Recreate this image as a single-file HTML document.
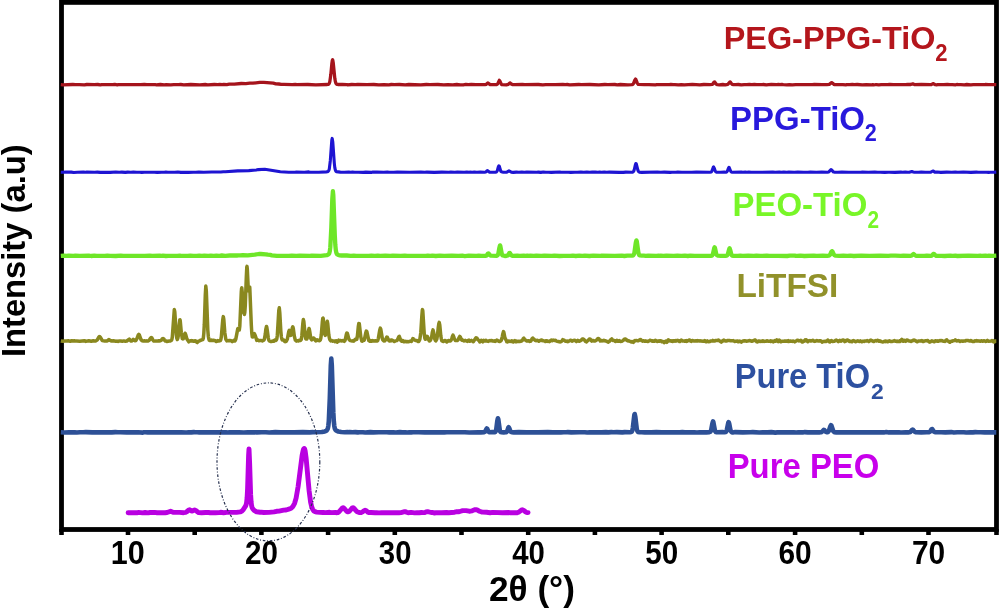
<!DOCTYPE html>
<html><head><meta charset="utf-8"><style>
html,body{margin:0;padding:0;background:#fff;overflow:hidden;width:1000px;height:612px;}
svg{display:block;}
text{font-family:"Liberation Sans",Arial,sans-serif;font-weight:bold;}
.tl{font-size:30px;fill:#000;}
.lab{font-size:30px;}
</style></head><body>
<svg width="1000" height="612" viewBox="0 0 1000 612">
<rect width="1000" height="612" fill="#fff"/>
<rect x="61.5" y="2.4" width="935" height="527.1" fill="none" stroke="#000" stroke-width="4.8"/>
<polyline points="60.8,84.6 62.8,84.8 72.8,84.5 75.3,84.7 79.3,84.6 84.3,84.8 86.8,84.5 94.3,84.7 97.8,84.5 100.3,84.8 101.8,84.6 112.8,84.7 114.8,84.4 117.3,84.8 118.3,84.6 125.8,84.6 140.8,84.7 144.3,84.4 146.8,84.7 155.3,84.7 156.3,84.8 160.3,84.5 164.3,84.9 166.3,84.6 170.8,84.8 173.8,84.6 178.3,84.7 180.8,84.5 183.8,84.8 190.8,84.5 199.8,84.8 205.3,84.5 207.8,84.8 214.3,84.5 217.8,84.7 219.8,84.5 222.3,84.6 223.8,84.3 226.8,84.6 229.3,84.1 234.3,84.1 241.3,83.5 245.8,83.6 249.8,83.1 252.8,83.2 259.8,82.4 263.8,82.4 273.3,83.2 275.8,83.9 278.8,84.0 281.3,84.4 283.8,84.4 292.3,84.7 295.3,84.5 296.8,84.7 307.8,84.5 315.8,84.8 327.3,84.5 328.3,84.3 328.8,84.0 329.3,83.3 329.8,81.8 330.8,74.8 331.8,64.1 332.3,60.5 332.6,59.8 332.8,60.2 333.3,63.3 334.8,78.3 335.3,81.3 335.8,83.0 336.3,83.9 336.8,84.3 337.8,84.5 342.3,84.4 346.8,84.6 347.3,84.8 351.8,84.5 355.3,84.7 357.8,84.4 366.8,84.7 373.8,84.5 378.8,84.8 383.8,84.6 388.8,84.8 391.3,84.5 394.3,84.7 399.3,84.5 405.3,84.8 408.8,84.5 420.8,84.8 426.3,84.5 429.8,84.7 437.8,84.5 443.8,84.9 447.8,84.6 452.8,84.8 456.8,84.5 460.3,84.8 463.3,84.8 465.8,84.4 468.3,84.7 471.3,84.4 475.8,84.7 484.8,84.7 486.3,84.3 487.8,83.0 488.0,83.0 489.8,84.4 490.3,84.6 496.3,84.7 497.3,84.3 497.8,83.7 499.3,80.3 499.8,80.8 501.3,84.2 501.8,84.6 506.3,84.9 508.3,84.4 509.3,83.4 510.0,83.0 510.3,83.0 511.3,84.1 512.3,84.6 514.8,84.7 522.3,84.5 524.8,84.7 538.3,84.5 542.8,84.8 545.8,84.6 555.3,84.7 562.8,84.5 565.3,84.7 567.3,84.5 569.8,84.8 578.8,84.5 581.3,84.7 589.8,84.5 598.8,84.8 604.8,84.5 607.8,84.7 614.8,84.5 617.3,84.8 620.3,84.5 627.8,84.8 631.8,84.6 632.8,84.3 633.3,83.8 633.8,82.9 634.8,80.1 635.5,79.1 635.8,79.3 637.3,83.2 638.3,84.4 644.3,84.7 648.8,84.6 655.3,84.8 656.8,84.6 663.8,84.7 666.3,84.6 669.3,84.7 670.8,84.5 673.3,84.7 674.8,84.6 678.3,84.8 681.3,84.6 684.3,84.9 692.3,84.4 699.8,84.9 703.8,84.5 709.8,84.7 712.3,84.4 712.8,84.0 713.8,82.5 714.4,81.9 714.8,82.1 716.3,84.3 717.3,84.7 719.3,84.8 722.8,84.5 725.3,84.8 727.8,84.3 730.0,81.9 730.3,82.0 731.8,84.1 732.8,84.5 735.8,84.7 738.3,84.5 741.3,84.9 744.3,84.6 746.8,84.7 749.3,84.5 751.8,84.7 754.3,84.5 756.8,84.7 762.3,84.6 763.3,84.5 766.3,84.8 771.3,84.4 776.3,84.7 778.8,84.5 779.8,84.6 781.8,84.5 783.3,84.7 786.8,84.8 789.3,84.6 792.3,84.8 795.8,84.6 800.3,84.7 809.8,84.6 812.3,84.7 814.3,84.5 822.3,84.7 826.8,84.7 829.3,84.3 831.6,82.6 832.3,82.9 833.8,84.3 834.8,84.6 838.8,84.7 842.8,84.6 845.8,84.8 846.8,84.6 849.8,84.7 852.3,84.5 854.3,84.7 857.3,84.5 862.3,84.8 866.3,84.6 871.8,84.8 872.8,84.6 873.8,84.8 875.3,84.7 876.3,84.6 878.8,84.8 881.3,84.6 887.3,84.7 889.8,84.5 893.3,84.7 897.3,84.6 905.3,84.7 907.8,84.5 910.8,84.5 912.8,83.8 914.8,84.7 921.3,84.4 930.3,84.7 931.3,84.6 933.0,83.6 935.3,84.7 936.3,84.8 937.8,84.6 943.8,84.7 947.3,84.5 949.8,84.7 952.3,84.6 955.3,84.8 956.8,84.5 958.3,84.7 960.8,84.6 964.3,84.8 966.8,84.5 970.8,84.8 973.3,84.6 984.3,84.7 985.3,84.5 988.3,84.7 990.8,84.6 996.3,84.7" fill="none" stroke="#a5141c" stroke-width="3.3" stroke-linejoin="round" stroke-linecap="butt"/><polyline points="60.8,172.2 62.3,172.3 65.8,172.1 71.3,172.1 73.8,172.5 77.3,172.2 83.3,172.1 85.8,172.3 86.8,172.1 94.8,172.3 97.3,172.1 100.3,172.4 107.8,172.2 110.3,172.4 115.8,172.0 119.3,172.3 121.8,172.1 125.3,172.4 127.8,172.1 130.8,172.2 133.3,172.1 136.8,172.3 139.8,172.2 141.8,172.4 144.3,172.2 150.3,172.3 154.3,172.2 157.3,172.4 161.8,172.2 164.3,172.2 165.8,172.0 167.8,172.3 172.8,172.2 174.8,172.3 177.8,172.0 180.8,172.4 183.3,172.2 188.3,172.4 193.3,172.2 195.8,172.3 198.8,172.1 203.8,172.3 211.8,172.0 220.8,172.0 223.3,171.7 225.3,171.8 237.8,170.9 248.8,170.6 256.3,170.0 258.3,169.6 264.8,169.2 280.3,171.8 288.8,172.2 295.3,172.3 296.3,172.1 304.3,172.2 308.8,171.9 310.3,172.2 318.8,172.2 326.3,171.9 327.3,171.8 328.3,171.3 328.8,170.5 329.3,169.0 330.3,160.7 331.8,140.1 332.2,138.4 332.8,142.1 334.3,163.1 334.8,167.6 335.3,169.9 335.8,171.1 336.3,171.6 340.3,172.1 344.3,172.2 348.8,172.0 350.8,172.2 352.3,172.1 354.8,172.3 358.3,172.2 363.3,172.4 365.8,172.1 371.3,172.4 372.8,172.1 376.8,172.1 383.8,172.3 387.3,172.0 389.3,172.2 393.8,172.3 397.3,172.1 409.8,172.3 420.8,172.0 424.8,172.3 426.8,172.1 434.3,172.4 441.8,172.1 448.8,172.3 450.8,172.1 454.8,172.2 457.3,172.0 464.3,172.3 466.8,172.0 469.3,172.3 469.8,172.1 472.3,172.3 474.3,172.0 476.8,172.3 480.3,172.1 484.3,172.3 485.8,171.9 486.3,171.6 486.8,171.0 487.6,170.6 489.3,172.0 489.8,172.2 495.3,172.3 496.3,172.0 496.8,171.6 497.3,170.7 498.3,167.0 498.9,165.8 499.3,166.3 500.8,171.2 501.3,171.8 503.3,172.2 506.8,172.1 509.0,170.9 511.3,172.1 513.3,172.4 516.3,172.1 518.8,172.3 521.8,172.1 524.3,172.3 526.8,172.1 536.8,172.3 538.3,172.1 540.8,172.4 543.3,172.0 545.8,172.3 548.3,172.2 551.3,172.4 559.8,172.0 560.8,172.2 568.3,172.2 570.8,172.4 574.8,172.2 577.3,172.3 580.8,172.0 583.8,172.3 586.8,172.0 589.8,172.3 592.3,172.0 595.3,172.1 597.8,172.3 599.8,172.1 601.3,172.2 604.3,172.1 606.8,172.3 609.3,172.1 619.3,172.4 620.8,172.2 623.3,172.4 625.8,172.1 631.8,172.2 632.8,172.1 633.3,171.7 633.8,171.0 634.3,169.5 635.3,165.0 635.8,163.6 636.0,163.5 636.3,163.9 637.8,169.9 638.3,171.2 638.8,171.9 639.3,172.1 641.8,172.4 657.3,172.0 660.8,172.3 664.3,172.1 670.3,172.4 671.8,172.2 675.8,172.3 677.8,172.1 681.8,172.3 684.8,172.2 691.8,172.3 696.3,172.1 709.8,172.2 711.3,171.9 711.8,171.3 713.3,167.2 713.6,166.9 714.3,168.2 715.3,171.2 715.8,171.9 716.3,172.1 720.8,172.3 724.3,172.0 725.8,172.2 726.8,171.9 727.3,171.2 728.3,168.6 729.0,167.3 729.3,167.7 730.8,171.5 731.3,172.0 732.3,172.3 741.3,172.1 742.8,172.3 745.3,172.1 746.8,172.3 748.8,172.1 751.3,172.3 772.8,172.1 775.3,172.3 779.3,172.0 781.3,172.3 783.8,172.0 786.8,172.3 788.8,172.1 794.3,172.3 797.8,172.1 803.8,172.3 806.3,172.2 807.8,172.3 810.3,172.1 816.3,172.3 821.8,172.1 827.3,172.2 828.8,171.9 831.0,169.6 831.8,170.1 833.3,171.9 834.3,172.1 837.8,172.3 841.8,172.1 848.8,172.3 853.3,172.2 860.8,172.3 862.3,172.1 868.3,172.3 874.8,172.1 877.8,172.3 880.3,172.2 884.8,172.4 888.3,172.3 889.3,172.2 894.8,172.4 900.8,172.1 902.3,172.3 905.3,172.1 907.8,172.3 909.3,172.2 911.8,171.5 913.3,172.0 914.3,172.2 918.3,172.3 921.3,172.0 925.3,172.3 930.8,172.1 932.8,171.0 933.3,171.1 934.8,172.1 937.3,172.0 940.8,172.4 946.8,172.1 951.8,172.3 955.3,172.0 957.8,172.3 963.3,172.0 970.8,172.4 976.3,172.1 978.3,172.3 986.3,172.2 988.8,172.4 989.8,172.2 993.3,172.3 996.3,172.1" fill="none" stroke="#1e14d2" stroke-width="3.1" stroke-linejoin="round" stroke-linecap="butt"/><polyline points="60.8,255.8 63.8,255.6 66.3,255.9 68.8,255.6 73.3,255.9 75.3,255.7 79.8,255.9 88.8,255.6 91.3,256.0 94.3,255.7 96.8,255.9 103.3,255.8 104.8,255.9 107.3,255.7 110.3,255.9 115.8,256.0 120.8,255.7 123.3,255.9 130.3,255.8 133.3,255.9 134.8,255.8 144.8,255.9 149.8,255.7 152.3,255.9 159.8,255.7 161.8,255.8 162.8,255.7 165.8,256.0 168.3,255.8 171.8,255.9 175.8,255.8 177.3,255.9 179.8,255.7 180.8,255.9 187.8,255.9 190.3,255.6 193.3,255.9 196.8,255.9 199.3,255.6 201.8,255.9 204.3,255.7 208.3,255.8 210.8,255.6 213.8,255.8 216.3,255.6 219.3,255.8 221.8,255.5 225.3,255.8 229.8,255.5 236.8,255.5 238.3,255.3 240.3,255.4 242.8,255.2 247.8,255.3 254.8,254.7 258.8,254.0 260.8,254.0 265.8,254.3 267.8,254.7 270.3,254.9 271.8,255.3 276.8,255.8 288.8,255.9 291.8,255.6 296.3,255.9 299.8,255.7 309.8,255.9 311.8,255.7 320.8,255.8 326.8,255.2 328.3,254.6 328.8,254.1 329.3,253.3 329.8,251.3 330.3,247.2 331.3,227.8 332.3,198.9 332.9,191.2 333.3,194.9 334.8,235.4 335.3,244.8 335.8,250.0 336.3,252.7 336.8,253.9 337.3,254.4 338.3,255.0 339.8,255.4 341.3,255.5 346.8,255.5 350.8,255.8 353.8,255.6 356.3,255.8 368.8,255.8 371.3,255.6 374.8,255.9 377.8,255.7 380.3,255.9 385.3,255.6 390.3,255.9 392.8,255.7 400.8,255.9 404.8,255.6 407.3,255.8 413.8,255.9 425.8,255.8 427.8,255.6 430.3,255.8 432.3,255.6 435.8,256.0 439.8,255.6 444.3,255.8 451.8,255.6 458.3,255.9 462.3,255.7 464.8,256.1 468.8,255.7 476.3,255.9 478.8,255.7 481.3,255.9 485.3,255.8 486.3,255.6 486.8,255.3 487.8,253.8 488.3,253.4 488.8,253.7 489.8,255.1 490.8,255.7 496.8,255.8 497.3,255.6 497.8,255.1 498.3,253.8 499.3,248.0 500.0,245.4 500.3,245.9 501.8,254.0 502.3,255.1 502.8,255.5 504.8,256.0 506.8,255.8 507.8,255.5 509.3,253.1 509.8,252.9 511.3,255.2 511.8,255.6 512.8,255.8 517.3,255.6 519.8,255.8 523.8,255.7 525.3,255.9 527.3,255.6 528.8,255.9 530.3,255.7 533.8,255.9 536.3,255.6 541.3,255.9 544.3,255.7 551.8,255.9 554.3,255.7 559.3,256.0 563.8,255.8 570.3,255.9 572.8,255.7 575.8,256.0 579.3,255.7 582.3,255.9 584.8,255.7 589.3,256.0 593.3,255.6 600.8,255.9 601.8,255.7 614.8,255.9 621.8,255.7 624.3,256.0 627.3,255.6 631.8,255.7 633.3,255.3 633.8,254.6 634.3,253.2 635.8,242.6 636.4,240.4 636.8,241.4 638.3,252.1 638.8,254.2 639.3,255.1 639.8,255.4 641.8,255.7 643.8,255.7 645.8,255.9 648.3,255.6 656.3,255.9 658.8,255.7 659.8,255.8 660.8,255.6 663.3,255.8 666.3,255.6 673.8,255.8 677.3,255.6 681.3,255.9 684.8,255.7 687.8,256.0 690.3,255.7 694.8,255.9 697.3,255.8 703.8,255.9 710.8,255.8 711.8,255.6 712.3,255.3 712.8,254.4 714.3,247.8 714.6,247.3 714.8,247.5 715.3,249.4 716.3,254.1 716.8,255.1 717.8,255.6 720.8,255.8 725.3,255.9 726.8,255.6 727.3,255.2 727.8,254.4 729.3,248.7 729.6,248.3 730.3,250.2 731.3,254.3 731.8,255.3 732.3,255.6 733.3,255.8 737.8,255.8 740.3,255.6 742.8,255.8 748.3,255.7 753.8,255.8 756.3,255.6 760.3,255.9 766.8,255.7 769.3,255.9 777.3,255.8 777.8,255.9 787.3,256.0 789.8,255.7 795.3,255.7 795.8,255.9 797.3,255.9 800.3,255.6 804.3,256.0 813.8,255.7 816.8,255.9 822.8,255.7 827.3,255.9 828.8,255.7 829.8,255.1 830.3,254.4 831.3,251.9 832.0,251.1 832.3,251.2 833.8,254.4 834.3,255.1 835.3,255.6 839.3,255.9 843.3,255.7 847.3,255.9 850.3,255.7 853.8,256.0 861.3,255.7 869.3,255.9 880.3,255.7 888.3,255.9 890.8,255.7 895.3,255.6 900.8,255.9 903.3,255.7 910.8,255.8 911.8,255.4 913.6,253.9 914.8,255.1 916.3,255.9 924.3,255.9 926.8,255.6 930.8,255.8 931.8,255.6 933.3,254.0 933.8,253.8 934.3,254.1 935.3,255.2 936.3,255.9 939.3,255.9 941.3,255.8 944.8,256.0 950.3,255.7 952.8,255.9 955.3,255.7 957.3,256.0 968.8,255.7 977.8,255.9 980.3,255.7 981.8,255.8 985.3,255.6 987.8,255.8 988.8,255.7 992.3,255.9 996.3,255.7" fill="none" stroke="#6ee628" stroke-width="4.3" stroke-linejoin="round" stroke-linecap="butt"/><polyline points="60.8,340.9 63.3,341.3 64.8,340.9 65.8,340.9 66.3,341.1 68.8,340.8 70.3,341.3 71.8,340.7 73.3,341.0 74.3,340.8 75.3,341.1 76.8,341.0 79.8,341.2 84.3,340.7 85.8,341.4 88.8,340.8 91.3,341.3 93.3,340.8 94.8,341.1 95.8,341.0 97.3,339.8 98.8,337.1 99.3,336.5 99.8,336.7 100.3,337.2 102.3,340.6 104.8,341.1 106.3,340.9 107.3,340.9 108.8,339.6 110.8,340.7 111.8,341.0 113.3,340.8 115.8,341.3 116.8,341.1 117.3,341.3 118.3,341.4 118.8,341.0 120.8,341.0 122.3,341.2 123.8,340.9 125.3,341.2 126.8,341.0 129.3,339.1 130.8,341.0 131.3,341.1 131.8,341.0 133.2,339.3 134.8,340.8 135.8,340.5 136.8,338.8 138.3,334.9 138.8,334.3 139.3,334.9 140.8,339.1 141.3,340.1 142.3,340.8 143.3,341.0 144.8,340.8 145.3,341.0 145.8,340.9 146.3,341.0 146.8,340.8 147.3,341.0 148.3,340.9 149.3,340.2 150.3,338.5 151.2,337.6 151.8,337.9 152.8,339.9 153.8,341.1 156.8,341.1 158.8,340.7 159.3,340.9 160.3,340.8 161.3,340.2 162.3,338.8 163.0,338.4 163.8,338.9 164.3,339.9 165.3,340.9 165.8,340.9 166.8,341.4 169.3,341.0 170.3,341.0 171.3,340.5 171.8,339.8 172.3,337.1 174.3,309.6 174.8,311.8 176.3,334.8 176.8,338.2 177.3,339.5 177.8,338.4 178.3,336.0 179.3,324.6 179.8,319.9 180.0,319.8 180.3,321.4 181.3,332.5 182.3,338.6 182.8,339.0 183.3,338.8 185.1,333.2 185.8,335.0 186.8,338.8 188.8,341.9 189.3,341.2 190.8,340.8 191.3,340.9 191.8,340.5 192.3,340.9 192.8,340.7 193.3,341.2 193.8,341.3 194.3,341.3 194.8,340.7 195.3,340.7 196.3,341.5 196.8,342.3 197.3,342.6 198.3,341.2 198.8,340.9 199.3,340.9 200.3,340.3 200.8,340.4 201.3,340.0 202.8,339.6 203.3,338.2 203.8,333.6 204.3,324.7 205.3,294.8 205.8,286.1 206.3,290.6 207.8,330.1 208.3,336.2 208.8,338.9 209.3,340.3 209.8,340.6 210.8,340.5 211.3,340.1 211.8,340.4 213.3,340.3 215.3,340.8 216.3,341.5 216.8,341.5 217.8,340.6 219.3,341.0 220.3,340.6 220.8,339.6 221.3,336.9 222.8,319.5 223.3,316.6 223.8,319.4 224.8,332.7 225.8,339.3 226.8,340.8 227.3,340.5 227.8,340.8 228.3,340.8 229.3,340.4 230.3,340.8 230.8,340.6 231.8,341.0 232.3,341.6 233.3,340.9 233.8,340.3 234.8,340.9 235.3,340.4 235.8,339.1 237.8,328.6 238.3,328.4 238.8,329.9 239.3,329.9 239.8,326.2 241.3,291.6 241.6,288.4 241.8,287.9 242.3,292.7 243.3,309.0 243.8,313.1 244.3,313.8 244.4,314.4 244.8,312.3 245.3,305.3 246.3,277.4 246.8,267.1 247.0,266.4 247.3,269.0 248.3,289.9 248.8,291.1 249.3,287.3 249.7,287.0 249.8,288.1 251.3,324.9 251.8,333.2 252.3,336.9 252.8,337.0 253.8,333.9 254.3,333.5 255.3,335.7 256.8,340.4 258.3,340.1 258.8,340.7 260.3,340.6 260.8,340.4 262.3,340.9 263.8,340.2 264.3,339.5 265.3,334.1 265.8,329.5 266.5,326.5 266.8,327.2 267.3,330.4 268.3,338.1 268.8,340.0 269.3,341.0 269.8,341.2 270.3,341.2 270.8,341.6 271.8,341.5 272.3,341.0 272.8,341.3 273.3,341.3 273.8,341.2 274.3,340.4 274.8,340.0 275.3,339.9 275.8,340.4 276.3,340.1 276.8,338.9 277.3,335.4 278.8,310.3 279.3,307.8 279.8,312.9 280.8,330.8 281.3,336.5 281.8,338.8 282.3,340.0 283.8,339.9 284.8,341.6 285.3,341.7 286.3,341.3 287.3,339.3 288.8,331.4 289.3,330.3 290.8,335.4 291.3,334.5 292.3,327.9 292.8,326.8 293.3,328.5 294.3,336.0 295.3,340.1 295.8,340.4 296.3,341.1 296.8,340.5 297.3,340.8 297.8,340.7 298.3,341.0 299.8,340.0 300.3,340.5 300.8,340.2 301.3,339.3 301.8,335.9 302.8,323.7 303.3,319.6 303.8,321.2 305.3,336.6 305.8,338.9 306.3,339.1 306.8,339.0 307.3,337.8 307.8,335.8 308.3,331.7 309.0,328.5 309.3,329.1 309.8,331.8 310.8,338.5 311.8,339.9 312.3,339.3 312.8,339.0 313.3,338.1 313.8,338.1 314.8,339.2 315.3,340.3 315.8,340.9 316.3,340.8 316.8,340.1 317.3,339.8 317.8,340.2 318.8,340.6 319.3,340.7 319.8,340.6 320.3,339.9 320.8,338.2 321.3,334.8 322.3,322.3 322.8,318.2 323.0,318.1 323.3,319.1 324.8,334.4 325.3,335.3 325.8,333.1 326.8,323.2 327.3,321.2 327.8,324.1 328.8,334.9 329.3,337.8 329.8,339.6 330.8,340.8 331.3,340.4 332.8,341.2 333.3,341.0 334.3,341.1 334.8,341.6 335.8,340.7 336.3,340.7 336.8,341.1 337.3,342.1 338.3,341.1 338.8,340.2 339.3,340.7 339.8,340.9 340.3,340.5 340.8,340.5 341.8,341.0 342.8,340.5 343.3,340.9 343.8,340.8 344.3,341.3 344.8,340.8 345.3,339.5 346.3,334.6 346.8,333.0 347.0,333.0 347.3,333.3 347.8,334.8 348.8,338.8 349.3,339.9 350.3,340.6 352.3,341.0 353.3,340.7 353.8,341.1 354.8,340.1 355.3,339.3 355.8,339.5 356.8,339.5 357.3,336.8 358.3,326.6 358.8,323.5 359.3,323.7 360.8,336.9 361.8,341.0 362.3,341.3 362.8,340.6 364.3,340.2 365.8,332.7 366.3,331.1 366.8,331.4 368.8,340.6 369.8,341.2 370.3,340.6 370.8,341.2 371.3,340.8 371.8,341.2 372.3,340.6 373.3,341.1 375.3,340.7 377.3,341.1 377.8,340.4 378.3,338.6 379.8,329.9 380.3,328.1 380.8,329.2 382.3,338.4 382.8,339.8 383.8,341.0 384.8,340.8 385.3,340.2 386.8,337.1 387.3,337.2 388.8,340.6 389.3,340.2 389.8,341.0 390.3,340.8 390.8,340.9 391.3,340.0 391.8,339.9 394.3,341.5 395.3,340.9 396.8,340.6 397.3,340.2 398.8,336.6 399.3,336.4 400.8,340.5 401.8,341.2 402.3,340.6 402.8,340.6 403.3,340.9 403.8,341.7 404.3,341.8 405.3,341.3 405.8,341.7 406.8,341.6 408.3,341.8 408.8,341.5 409.3,341.6 409.8,341.2 410.3,341.1 410.8,341.0 411.3,341.4 411.8,340.9 412.8,338.6 413.3,338.7 413.5,339.0 415.3,340.5 416.3,340.5 417.3,340.8 417.8,341.4 418.3,341.1 418.8,341.4 419.8,339.5 420.8,332.7 421.8,316.5 422.3,310.3 422.5,309.6 422.8,310.9 424.3,334.5 424.8,338.1 425.3,339.3 425.8,339.0 427.0,336.3 427.3,336.5 428.3,339.1 429.3,341.0 429.8,341.0 430.3,340.4 430.8,339.5 431.8,335.9 432.3,332.4 433.0,329.9 433.8,333.2 434.8,339.2 435.3,340.4 435.8,341.0 436.8,339.2 437.3,336.5 438.3,327.3 438.8,323.7 439.2,322.4 439.8,325.2 440.8,335.8 441.3,338.9 441.8,340.7 442.8,341.4 443.3,341.5 444.8,340.5 445.3,340.5 446.8,342.0 448.3,340.6 448.8,340.6 449.8,341.1 450.8,340.6 451.8,338.9 452.3,336.7 453.0,335.1 453.8,336.9 454.3,338.7 455.3,340.5 457.3,340.6 458.3,339.5 458.8,338.1 459.8,336.4 460.3,336.9 461.3,339.5 461.8,340.1 462.3,340.3 462.8,340.1 463.8,340.9 464.8,340.8 465.3,340.4 465.8,340.7 466.8,340.9 467.3,341.3 467.8,340.5 468.3,340.5 468.8,340.2 469.3,341.1 469.8,341.3 471.3,340.4 471.8,340.8 472.3,340.8 472.8,341.4 473.3,341.7 476.0,337.8 476.3,338.1 476.8,338.0 477.8,339.7 479.3,340.9 479.8,342.0 480.8,341.1 481.3,340.3 482.8,341.8 483.8,340.4 484.3,340.8 485.3,340.9 485.8,340.3 486.8,341.0 488.3,341.4 489.3,340.7 489.8,340.6 490.8,340.7 491.3,340.5 492.8,341.0 493.8,340.9 494.3,341.2 494.8,340.8 495.3,341.4 496.3,340.7 496.8,340.1 497.3,340.2 497.8,340.7 498.3,340.7 498.8,341.2 499.8,341.5 500.8,341.0 501.3,340.3 502.3,336.6 502.8,333.9 503.5,331.6 503.8,332.1 504.8,337.4 505.3,338.8 506.3,340.4 506.8,341.8 507.3,341.9 507.8,341.6 508.3,341.1 508.8,341.4 509.3,341.1 511.3,341.5 511.8,340.9 512.8,341.4 513.3,341.9 514.8,340.6 515.8,341.7 516.3,341.7 516.8,341.2 517.3,341.6 518.8,341.2 519.8,341.5 520.3,341.2 520.8,341.2 521.3,340.7 521.8,340.9 522.8,339.6 523.3,338.5 523.8,338.1 524.8,339.8 525.3,339.9 526.8,341.0 528.8,340.8 529.8,341.4 530.8,341.2 532.3,338.4 532.8,338.1 533.0,338.6 533.3,338.6 533.8,339.0 535.3,340.6 536.3,340.7 536.8,340.3 537.3,340.3 538.8,341.2 539.3,340.7 539.8,340.7 540.3,340.3 540.8,340.4 541.3,340.1 541.8,340.1 543.3,340.8 544.8,341.0 545.3,341.5 545.8,340.8 546.8,340.8 547.3,341.4 548.3,341.2 548.8,341.3 549.3,341.7 549.8,341.5 550.8,340.3 551.3,340.1 552.3,340.7 552.8,340.6 553.3,340.1 554.3,340.4 555.3,340.3 556.3,341.0 557.3,341.4 558.3,341.6 558.8,341.4 559.3,341.8 560.3,341.9 561.3,341.6 562.3,340.6 562.8,339.7 563.3,340.1 563.8,339.9 565.3,341.2 566.3,341.3 566.8,341.1 567.3,341.6 567.8,341.0 568.3,341.4 568.8,340.9 569.3,340.9 570.8,340.2 572.3,341.2 573.3,340.4 574.3,340.6 574.8,340.3 575.8,340.9 576.3,341.6 577.3,341.0 577.8,340.4 578.3,340.8 578.8,340.7 579.3,341.2 579.8,340.9 580.3,340.8 581.8,339.8 582.3,339.0 582.8,339.1 583.0,339.5 583.3,339.0 584.3,339.8 585.3,341.2 586.3,341.9 587.3,340.9 588.3,340.3 589.3,338.9 590.0,338.9 591.8,341.2 592.3,340.6 592.8,340.5 594.3,341.0 595.3,341.0 596.8,339.8 598.0,338.5 598.8,338.7 599.3,339.3 600.3,341.0 601.8,340.4 602.3,340.9 602.8,340.8 603.3,340.8 603.8,340.2 604.8,340.8 605.8,341.1 606.3,341.0 606.8,341.4 608.3,342.1 608.8,341.5 609.3,341.4 609.8,340.7 610.3,340.5 610.8,339.6 611.3,339.4 611.8,338.8 612.0,339.5 612.3,339.6 612.8,340.4 613.3,340.6 613.8,340.4 614.8,340.8 615.3,341.5 615.8,341.5 616.8,340.3 617.3,340.6 617.8,341.2 618.3,341.3 618.8,341.2 619.3,340.7 619.8,341.1 620.3,340.9 620.8,341.4 621.3,341.3 621.8,341.4 623.3,340.4 624.3,339.2 625.3,339.0 625.8,339.1 626.3,339.9 627.3,340.8 627.8,340.6 628.3,340.9 628.8,340.7 631.3,342.0 631.8,341.5 632.3,341.6 633.3,342.4 633.8,341.4 634.8,340.6 635.3,341.0 635.8,340.6 636.8,340.5 637.3,340.7 638.3,340.8 640.0,339.6 640.3,339.8 640.8,339.6 641.8,340.7 642.8,341.2 643.3,340.8 644.3,341.0 644.8,341.3 645.3,341.3 645.8,340.9 646.3,341.2 647.3,341.4 647.8,341.2 648.3,341.4 649.8,340.3 650.3,340.2 652.3,341.3 652.8,340.9 653.3,341.2 653.8,340.9 654.3,341.2 654.8,340.9 655.3,340.2 657.3,341.4 657.8,341.1 658.3,341.2 658.8,340.9 659.3,341.3 660.3,340.7 660.8,340.7 661.8,341.7 662.8,341.4 664.3,342.7 664.8,341.9 665.8,341.0 666.8,342.3 667.3,341.8 667.8,340.4 668.3,339.8 668.8,340.0 669.3,340.8 669.8,341.0 671.3,340.7 671.8,341.2 672.3,341.1 672.8,341.4 673.3,340.7 673.8,340.9 674.3,340.8 674.8,341.2 675.8,340.6 676.3,341.0 676.8,340.5 677.3,340.7 677.8,340.3 678.3,340.7 678.8,340.9 679.3,341.5 679.8,341.6 681.3,340.1 681.8,340.6 682.8,341.1 683.8,341.1 684.3,340.9 684.8,341.2 685.3,340.8 685.8,341.2 686.3,340.6 686.8,341.4 687.8,341.0 688.3,340.4 688.8,340.3 689.3,339.9 689.8,340.1 690.8,341.2 691.3,341.4 691.8,340.7 692.8,340.4 693.3,340.9 693.8,341.0 696.3,340.8 697.3,341.1 697.8,340.6 698.8,340.9 700.3,340.8 700.8,341.0 703.3,341.3 704.8,340.6 705.3,341.0 705.8,341.8 706.3,341.8 706.8,341.2 707.3,340.9 708.3,341.6 708.8,341.7 709.3,341.4 709.8,341.4 710.3,340.9 710.8,341.1 712.3,340.9 712.8,340.4 713.8,341.0 714.8,340.9 715.3,340.6 715.8,340.6 716.3,340.4 717.3,340.5 718.3,340.0 721.3,342.1 721.8,341.6 722.3,341.5 722.8,340.5 723.3,340.6 723.8,340.1 724.3,340.8 724.8,340.5 725.3,341.0 726.3,341.1 727.8,340.4 728.8,340.5 729.8,340.4 730.3,340.7 731.3,340.8 732.3,340.8 733.3,340.6 734.8,341.6 735.3,341.3 737.8,341.0 738.3,341.8 739.8,341.1 741.3,342.2 741.8,341.4 742.3,341.5 742.8,340.9 743.3,341.0 744.3,340.8 744.8,340.9 745.3,340.8 746.3,341.2 748.8,340.7 749.3,340.4 750.3,340.6 751.8,341.3 753.3,340.7 753.8,340.8 754.8,339.9 755.3,340.0 756.8,341.8 757.8,341.9 758.3,341.1 758.8,341.1 759.3,341.1 759.8,341.5 760.8,341.2 761.8,341.4 762.8,340.8 763.3,340.9 764.3,341.5 764.8,341.3 766.3,341.2 766.8,340.7 767.8,340.9 768.3,341.3 769.8,341.2 770.3,340.9 770.8,341.4 771.3,341.1 772.8,341.3 773.3,341.9 774.8,340.7 775.3,341.2 775.8,341.2 776.8,339.9 777.3,340.3 778.3,341.6 779.3,340.2 779.8,340.6 780.8,341.8 782.3,341.2 783.8,341.3 784.8,340.9 785.8,341.3 786.3,340.9 786.8,341.1 787.3,340.9 787.8,341.3 788.3,340.7 788.8,341.5 789.3,341.0 789.8,341.2 790.3,340.9 791.3,341.3 791.8,341.2 792.3,341.4 793.3,341.0 794.3,341.5 794.8,341.9 797.3,340.3 797.8,340.2 798.8,341.0 799.3,340.9 800.8,340.3 801.8,341.7 802.3,342.1 802.8,342.0 803.3,341.1 803.8,341.2 804.3,340.7 804.8,340.9 805.3,339.8 805.8,340.3 806.3,339.9 806.8,341.2 807.3,341.2 807.8,341.7 808.8,340.8 809.3,340.7 809.8,340.6 810.8,341.1 811.8,340.8 812.8,340.3 814.3,341.3 814.8,341.4 815.8,341.1 816.8,340.5 817.3,340.8 817.8,340.7 818.3,341.1 819.8,340.7 820.8,340.7 822.3,342.1 823.3,341.4 825.3,341.2 826.3,341.5 826.8,340.9 827.3,340.9 827.8,340.1 828.3,340.8 828.8,340.7 829.3,341.9 829.8,342.0 831.3,340.5 832.8,341.4 833.3,341.4 834.3,341.2 835.8,340.2 836.3,340.1 836.8,340.3 838.3,341.6 839.8,340.3 840.8,341.2 842.3,340.2 843.3,339.9 843.8,340.3 844.8,341.7 845.3,341.3 845.8,341.2 846.3,340.3 846.8,340.3 847.3,339.9 847.8,340.1 848.3,340.7 848.8,340.8 849.3,341.4 849.8,341.0 850.3,341.4 850.8,341.2 851.8,341.7 852.3,340.9 852.8,341.0 853.3,340.5 854.3,340.9 855.3,341.7 856.8,341.3 857.8,340.8 859.3,341.5 860.3,340.9 860.8,341.4 861.8,341.7 862.3,341.2 863.8,341.2 864.3,341.5 864.8,340.9 866.8,340.9 867.3,340.6 867.8,341.0 868.3,340.9 868.8,341.6 870.3,340.2 870.8,340.1 871.3,340.6 871.8,340.6 873.8,341.6 874.8,340.9 875.8,340.5 876.3,340.9 876.8,340.6 877.8,340.3 878.8,341.2 879.3,341.3 879.8,340.7 880.8,341.2 881.3,341.6 882.3,341.9 883.8,341.7 884.3,341.2 884.8,341.4 885.3,341.1 885.8,341.6 886.3,341.2 887.3,341.2 887.8,341.8 888.8,341.2 889.3,340.7 890.8,341.6 891.8,341.6 892.3,341.2 892.8,341.3 893.3,341.0 893.8,341.0 894.3,340.6 895.8,341.3 896.3,341.2 896.8,341.5 897.3,341.0 897.8,341.4 898.8,341.4 899.3,340.9 899.8,340.8 900.3,341.3 901.8,339.4 902.3,339.8 902.8,340.9 903.3,341.3 903.8,341.3 904.3,340.3 905.8,341.3 906.8,339.9 907.8,340.1 908.3,340.7 910.8,341.4 911.3,340.9 912.3,341.0 912.8,340.4 913.8,340.0 914.3,340.5 914.8,340.3 915.8,340.8 916.3,341.4 917.3,341.8 917.8,341.3 918.8,340.9 919.3,341.1 920.3,341.0 920.8,341.1 921.3,340.7 921.8,340.5 922.8,341.5 923.3,341.6 923.8,341.0 924.3,341.2 925.8,340.7 926.8,340.8 927.8,340.5 928.3,341.3 928.8,341.4 929.3,342.1 929.8,341.8 930.3,341.9 931.3,341.0 931.8,340.8 932.8,341.3 934.3,341.7 935.3,340.7 936.3,341.1 937.3,341.2 937.8,340.8 938.3,341.2 938.8,340.9 939.3,340.9 939.8,340.5 941.3,340.8 941.8,340.5 943.3,341.3 944.3,341.2 944.8,341.4 945.3,341.1 945.8,340.4 946.8,339.9 947.3,340.7 948.3,341.3 948.8,341.3 949.3,342.0 949.8,342.3 950.3,342.1 950.8,341.4 951.8,341.1 952.3,341.2 952.8,340.7 954.8,340.6 955.3,339.9 955.8,340.4 956.8,340.9 957.8,340.8 958.3,340.6 959.3,340.9 959.8,341.5 961.8,340.9 962.8,341.2 963.8,341.0 965.3,341.1 965.8,340.6 966.8,340.5 968.3,340.6 969.8,341.1 970.8,340.5 971.8,341.2 972.3,341.4 972.8,341.2 973.3,341.6 973.8,341.6 974.8,340.8 975.8,341.1 976.8,340.6 978.3,341.1 979.3,341.0 980.3,341.2 981.8,340.8 982.3,341.2 982.8,341.2 983.3,341.1 983.8,340.7 984.3,340.7 985.8,341.5 986.3,341.3 986.8,340.7 987.3,340.4 988.3,341.2 988.8,341.2 991.3,341.1 991.8,340.6 992.3,341.0 992.8,340.7 993.3,341.7 993.8,341.5 994.3,342.0 994.8,341.4 995.8,340.9 996.3,340.9" fill="none" stroke="#8a881f" stroke-width="3.5" stroke-linejoin="round" stroke-linecap="butt"/><polyline points="60.8,432.3 64.3,432.5 69.3,432.2 72.8,432.4 74.8,432.3 76.8,432.5 79.8,432.2 83.3,432.3 85.8,432.1 92.3,432.4 94.8,432.2 97.3,432.4 104.3,432.2 108.3,432.4 111.8,432.4 115.3,432.1 117.8,432.3 120.3,432.2 126.8,432.4 129.3,432.3 133.8,432.4 137.8,432.2 142.8,432.6 143.8,432.3 145.3,432.2 147.8,432.4 154.8,432.2 162.3,432.4 167.8,432.2 178.8,432.4 181.3,432.2 186.3,432.5 188.8,432.2 191.3,432.4 193.8,432.1 194.8,432.3 197.3,432.2 199.3,432.4 201.8,432.2 213.8,432.4 215.8,432.2 220.3,432.4 221.8,432.2 223.8,432.4 225.8,432.2 227.3,432.5 229.8,432.2 232.8,432.4 238.8,432.2 243.8,432.5 247.8,432.2 250.8,432.4 251.3,432.2 256.8,432.4 261.8,432.2 263.3,432.3 265.8,432.2 269.3,432.5 275.3,432.1 280.3,432.4 291.3,432.2 294.3,432.4 302.8,432.1 309.8,432.4 312.8,432.1 314.3,432.2 321.8,432.0 324.8,431.4 326.3,430.8 326.8,430.4 327.8,428.6 328.3,426.1 328.8,421.3 329.8,398.7 330.8,365.5 331.3,358.6 331.8,365.4 333.3,412.4 333.8,421.3 334.3,426.1 334.8,428.5 335.3,429.6 336.3,430.7 338.3,431.5 341.3,432.0 344.8,432.2 347.3,432.0 348.8,432.3 349.8,432.1 352.3,432.3 355.3,432.1 357.8,432.4 359.3,432.2 362.8,432.2 365.3,432.5 370.3,432.1 373.3,432.4 378.8,432.2 382.8,432.3 386.8,432.2 389.3,432.4 393.3,432.2 395.8,432.5 399.8,432.1 402.3,432.4 405.3,432.3 407.3,432.5 409.3,432.3 411.3,432.4 412.8,432.2 416.3,432.3 418.8,432.2 424.8,432.4 429.3,432.2 431.8,432.4 436.8,432.2 444.3,432.4 446.8,432.2 448.8,432.3 464.8,432.2 469.3,432.5 478.3,432.3 480.8,432.4 484.3,432.1 484.8,431.8 485.3,431.3 486.3,429.2 486.8,428.5 487.3,429.0 488.3,431.3 488.8,432.0 489.8,432.3 492.3,432.1 494.3,432.3 495.3,432.0 495.8,431.1 496.3,429.1 497.3,421.0 497.9,418.3 498.3,419.4 499.8,430.3 500.3,431.6 500.8,432.1 501.3,432.2 503.8,432.4 505.8,432.3 506.3,432.1 506.8,431.7 507.3,430.7 508.3,427.8 508.7,427.3 509.3,428.2 510.3,431.0 510.8,431.8 511.8,432.2 513.8,432.4 518.8,432.1 526.3,432.4 530.3,432.4 531.8,432.2 534.3,432.4 535.8,432.2 538.3,432.4 547.8,432.1 552.8,432.4 559.3,432.2 560.8,432.4 563.8,432.2 566.3,432.3 567.8,432.1 571.3,432.4 579.3,432.2 582.3,432.3 584.8,432.2 587.3,432.5 589.8,432.2 594.3,432.4 596.8,432.2 598.3,432.4 601.8,432.4 605.8,432.1 608.3,432.4 611.3,432.1 613.3,432.3 616.8,432.1 622.3,432.4 624.8,432.1 629.8,432.2 631.3,432.0 631.8,431.6 632.3,430.5 632.8,428.1 634.3,415.3 634.7,414.0 635.3,416.7 636.8,429.2 637.3,430.9 637.8,431.7 638.3,432.1 639.3,432.3 641.8,432.2 644.8,432.4 649.3,432.3 651.3,432.4 656.3,432.1 661.8,432.4 672.3,432.3 673.8,432.4 676.3,432.2 679.8,432.4 682.3,432.1 684.8,432.4 694.3,432.2 696.8,432.5 699.8,432.2 706.3,432.4 709.3,432.1 710.3,431.7 710.8,431.1 711.3,429.5 712.3,423.8 713.0,421.4 713.3,421.8 714.8,429.9 715.3,431.4 715.8,432.0 716.3,432.2 717.3,432.3 722.3,432.1 724.3,432.3 725.8,432.0 726.3,431.4 726.8,430.0 728.3,422.6 728.6,422.1 728.8,422.3 729.3,424.2 730.3,429.5 730.8,431.0 731.3,431.8 731.8,432.2 732.8,432.5 735.3,432.1 742.8,432.4 750.3,432.3 752.8,432.1 759.3,432.5 762.8,432.3 767.3,432.4 771.3,432.1 775.3,432.6 777.3,432.4 781.3,432.4 783.8,432.2 785.3,432.4 787.8,432.2 791.3,432.4 793.8,432.3 796.3,432.5 798.3,432.3 802.8,432.4 804.8,432.1 807.8,432.4 814.8,432.2 819.3,432.4 820.8,432.3 821.8,432.0 823.8,429.9 824.3,430.0 825.8,431.7 827.3,432.2 827.8,432.1 828.8,431.0 830.3,426.4 831.0,425.2 831.3,425.5 831.8,426.7 833.3,431.2 834.3,432.2 836.3,432.4 843.3,432.2 845.8,432.4 851.3,432.3 852.8,432.4 859.8,432.3 864.8,432.4 869.3,432.3 871.3,432.4 873.8,432.2 874.8,432.4 881.3,432.2 883.8,432.4 886.3,432.0 888.8,432.4 898.8,432.2 900.8,432.5 905.8,432.2 908.3,432.4 909.3,432.3 910.3,432.0 911.8,430.1 912.6,429.5 913.3,430.1 914.8,431.9 915.8,432.2 921.3,432.4 926.8,432.3 928.8,432.2 929.8,431.9 930.3,431.4 931.3,429.6 932.0,429.0 932.3,429.1 933.8,431.5 934.8,432.1 935.3,432.2 941.3,432.2 945.3,432.4 951.3,432.1 953.8,432.5 957.3,432.2 963.8,432.2 966.3,432.5 970.3,432.3 972.8,432.4 975.3,432.1 977.8,432.3 980.8,432.2 984.8,432.4 985.8,432.3 996.3,432.4" fill="none" stroke="#2d5096" stroke-width="4.6" stroke-linejoin="round" stroke-linecap="butt"/><polyline points="128.1,512.8 134.1,512.8 137.6,512.7 138.6,512.5 140.6,512.6 142.6,512.9 145.1,512.5 148.1,512.9 150.1,512.5 154.6,512.4 157.1,512.7 165.1,512.7 167.1,512.5 170.6,511.2 173.6,512.4 179.6,512.4 183.6,512.7 185.6,512.4 186.6,511.9 188.6,510.1 189.6,509.8 190.1,510.0 191.1,510.8 192.1,511.0 192.6,510.9 193.6,510.3 194.6,509.9 196.1,510.6 197.6,512.0 198.6,512.6 201.6,512.7 205.6,512.5 208.6,512.5 210.1,512.7 212.1,512.6 215.6,512.7 219.1,512.6 220.6,512.3 223.6,512.7 226.6,512.4 236.6,512.4 240.1,511.9 241.1,511.6 242.1,510.9 243.1,509.8 245.5,506.2 246.1,504.8 246.6,502.6 247.1,497.8 247.6,488.3 248.6,455.3 249.0,448.9 249.6,462.5 250.6,494.2 251.1,501.9 251.6,505.7 252.1,507.5 252.6,508.6 254.1,510.3 256.6,511.8 260.1,512.2 261.1,512.1 263.6,512.5 269.1,512.4 274.1,511.9 276.6,511.3 279.1,511.1 283.6,510.1 286.1,510.0 289.6,508.9 291.1,508.2 292.6,506.9 293.1,506.2 294.6,503.3 296.1,498.1 298.1,486.6 302.1,455.6 303.1,450.7 303.6,449.1 304.1,448.5 304.3,448.5 304.6,448.9 305.1,450.6 306.1,458.0 309.1,490.8 310.6,502.1 311.6,506.5 312.6,509.2 313.6,510.8 315.1,511.7 316.6,512.1 323.1,512.5 325.6,512.6 329.6,512.3 331.6,512.6 335.6,512.5 337.1,512.7 338.1,512.5 339.1,511.8 342.1,508.2 343.1,507.7 344.1,508.3 346.6,511.3 347.6,511.8 348.1,511.8 349.1,511.4 349.6,511.0 352.1,508.1 353.0,507.7 353.6,508.0 354.6,509.0 355.6,510.3 357.1,511.8 359.1,512.5 360.6,512.6 361.1,512.6 362.6,511.9 364.1,510.7 365.1,510.3 366.1,510.6 368.1,512.3 368.6,512.5 371.1,512.5 375.1,512.8 376.6,512.7 379.1,512.9 381.6,512.6 384.6,512.8 387.1,512.6 389.1,512.8 393.6,512.6 399.1,512.7 401.1,512.6 404.6,511.7 405.6,511.7 406.6,512.2 408.1,512.7 411.1,512.4 414.6,512.9 417.1,512.6 419.1,512.8 421.6,512.5 423.1,512.6 425.1,512.5 426.1,511.9 427.6,511.6 431.1,512.5 432.1,512.4 434.6,513.0 436.1,512.7 441.6,512.7 446.6,512.5 448.6,512.7 454.6,512.2 456.1,511.8 459.1,511.7 462.1,510.7 463.1,510.6 466.1,510.6 469.1,511.2 470.1,511.2 472.1,510.8 474.6,509.8 476.1,509.6 477.1,509.8 479.6,511.3 481.6,512.0 482.6,512.1 486.6,512.2 490.1,512.7 492.6,512.4 502.6,512.8 508.6,512.5 510.6,512.8 513.1,512.6 517.1,512.7 519.1,511.9 521.6,510.0 522.6,509.8 524.1,510.6 525.1,511.6 526.1,512.2 527.1,512.6 528.1,512.6" fill="none" stroke="#b900e1" stroke-width="4.9" stroke-linejoin="round" stroke-linecap="round"/>
<ellipse cx="268.4" cy="461.9" rx="51.4" ry="79" fill="none" stroke="#26304e" stroke-width="1.2" stroke-dasharray="2.6 1.8 0.9 1.8"/>
<line x1="61.5" y1="529" x2="61.5" y2="535" stroke="#000" stroke-width="4.6"/><line x1="128.0" y1="529" x2="128.0" y2="535" stroke="#000" stroke-width="4.6"/><line x1="194.7" y1="529" x2="194.7" y2="535" stroke="#000" stroke-width="4.6"/><line x1="261.4" y1="529" x2="261.4" y2="535" stroke="#000" stroke-width="4.6"/><line x1="328.1" y1="529" x2="328.1" y2="535" stroke="#000" stroke-width="4.6"/><line x1="394.8" y1="529" x2="394.8" y2="535" stroke="#000" stroke-width="4.6"/><line x1="461.5" y1="529" x2="461.5" y2="535" stroke="#000" stroke-width="4.6"/><line x1="528.2" y1="529" x2="528.2" y2="535" stroke="#000" stroke-width="4.6"/><line x1="594.9" y1="529" x2="594.9" y2="535" stroke="#000" stroke-width="4.6"/><line x1="661.6" y1="529" x2="661.6" y2="535" stroke="#000" stroke-width="4.6"/><line x1="728.3" y1="529" x2="728.3" y2="535" stroke="#000" stroke-width="4.6"/><line x1="795.1" y1="529" x2="795.1" y2="535" stroke="#000" stroke-width="4.6"/><line x1="861.8" y1="529" x2="861.8" y2="535" stroke="#000" stroke-width="4.6"/><line x1="928.5" y1="529" x2="928.5" y2="535" stroke="#000" stroke-width="4.6"/><line x1="996.5" y1="529" x2="996.5" y2="535" stroke="#000" stroke-width="4.6"/>
<text transform="translate(110.75,563.90) scale(0.9394,1)" font-size="32.46" fill="#000">10</text><text transform="translate(245.11,563.90) scale(0.9123,1)" font-size="32.46" fill="#000">20</text><text transform="translate(378.82,563.90) scale(0.9036,1)" font-size="32.46" fill="#000">30</text><text transform="translate(512.24,563.90) scale(0.9036,1)" font-size="32.46" fill="#000">40</text><text transform="translate(645.35,563.90) scale(0.9123,1)" font-size="32.46" fill="#000">50</text><text transform="translate(778.46,563.90) scale(0.9211,1)" font-size="32.46" fill="#000">60</text><text transform="translate(911.88,563.90) scale(0.9211,1)" font-size="32.46" fill="#000">70</text>
<text transform="translate(488.94,600.70) scale(0.9951,1)" font-size="35.43" fill="#000">2θ (°)</text>
<text transform="translate(25,357.09) rotate(-90) scale(0.9630,1)" font-size="34.0" fill="#000">Intensity (a.u)</text>
<text transform="translate(723.73,49.00) scale(1.0165,1)" font-size="31.88" fill="#b4161c">PEG-PPG-TiO</text><text transform="translate(935.34,60.80) scale(0.9408,1)" font-size="23.43" fill="#b4161c">2</text><text transform="translate(730.09,129.80) scale(0.9804,1)" font-size="33.62" fill="#2819dc">PPG-TiO</text><text transform="translate(864.75,140.80) scale(0.9233,1)" font-size="23.43" fill="#2819dc">2</text><text transform="translate(732.49,216.00) scale(0.9889,1)" font-size="33.33" fill="#78f628">PEO-TiO</text><text transform="translate(867.38,227.60) scale(0.8778,1)" font-size="23.71" fill="#78f628">2</text><text transform="translate(736.47,296.90) scale(0.9964,1)" font-size="33.48" fill="#91912a">LiTFSI</text><text transform="translate(734.72,387.80) scale(0.9538,1)" font-size="34.20" fill="#2d50a0">Pure TiO</text><text transform="translate(870.91,398.60) scale(1.0256,1)" font-size="22.29" fill="#2d50a0">2</text><text transform="translate(727.70,477.60) scale(0.9616,1)" font-size="34.20" fill="#c800eb">Pure PEO</text>
</svg>
</body></html>
